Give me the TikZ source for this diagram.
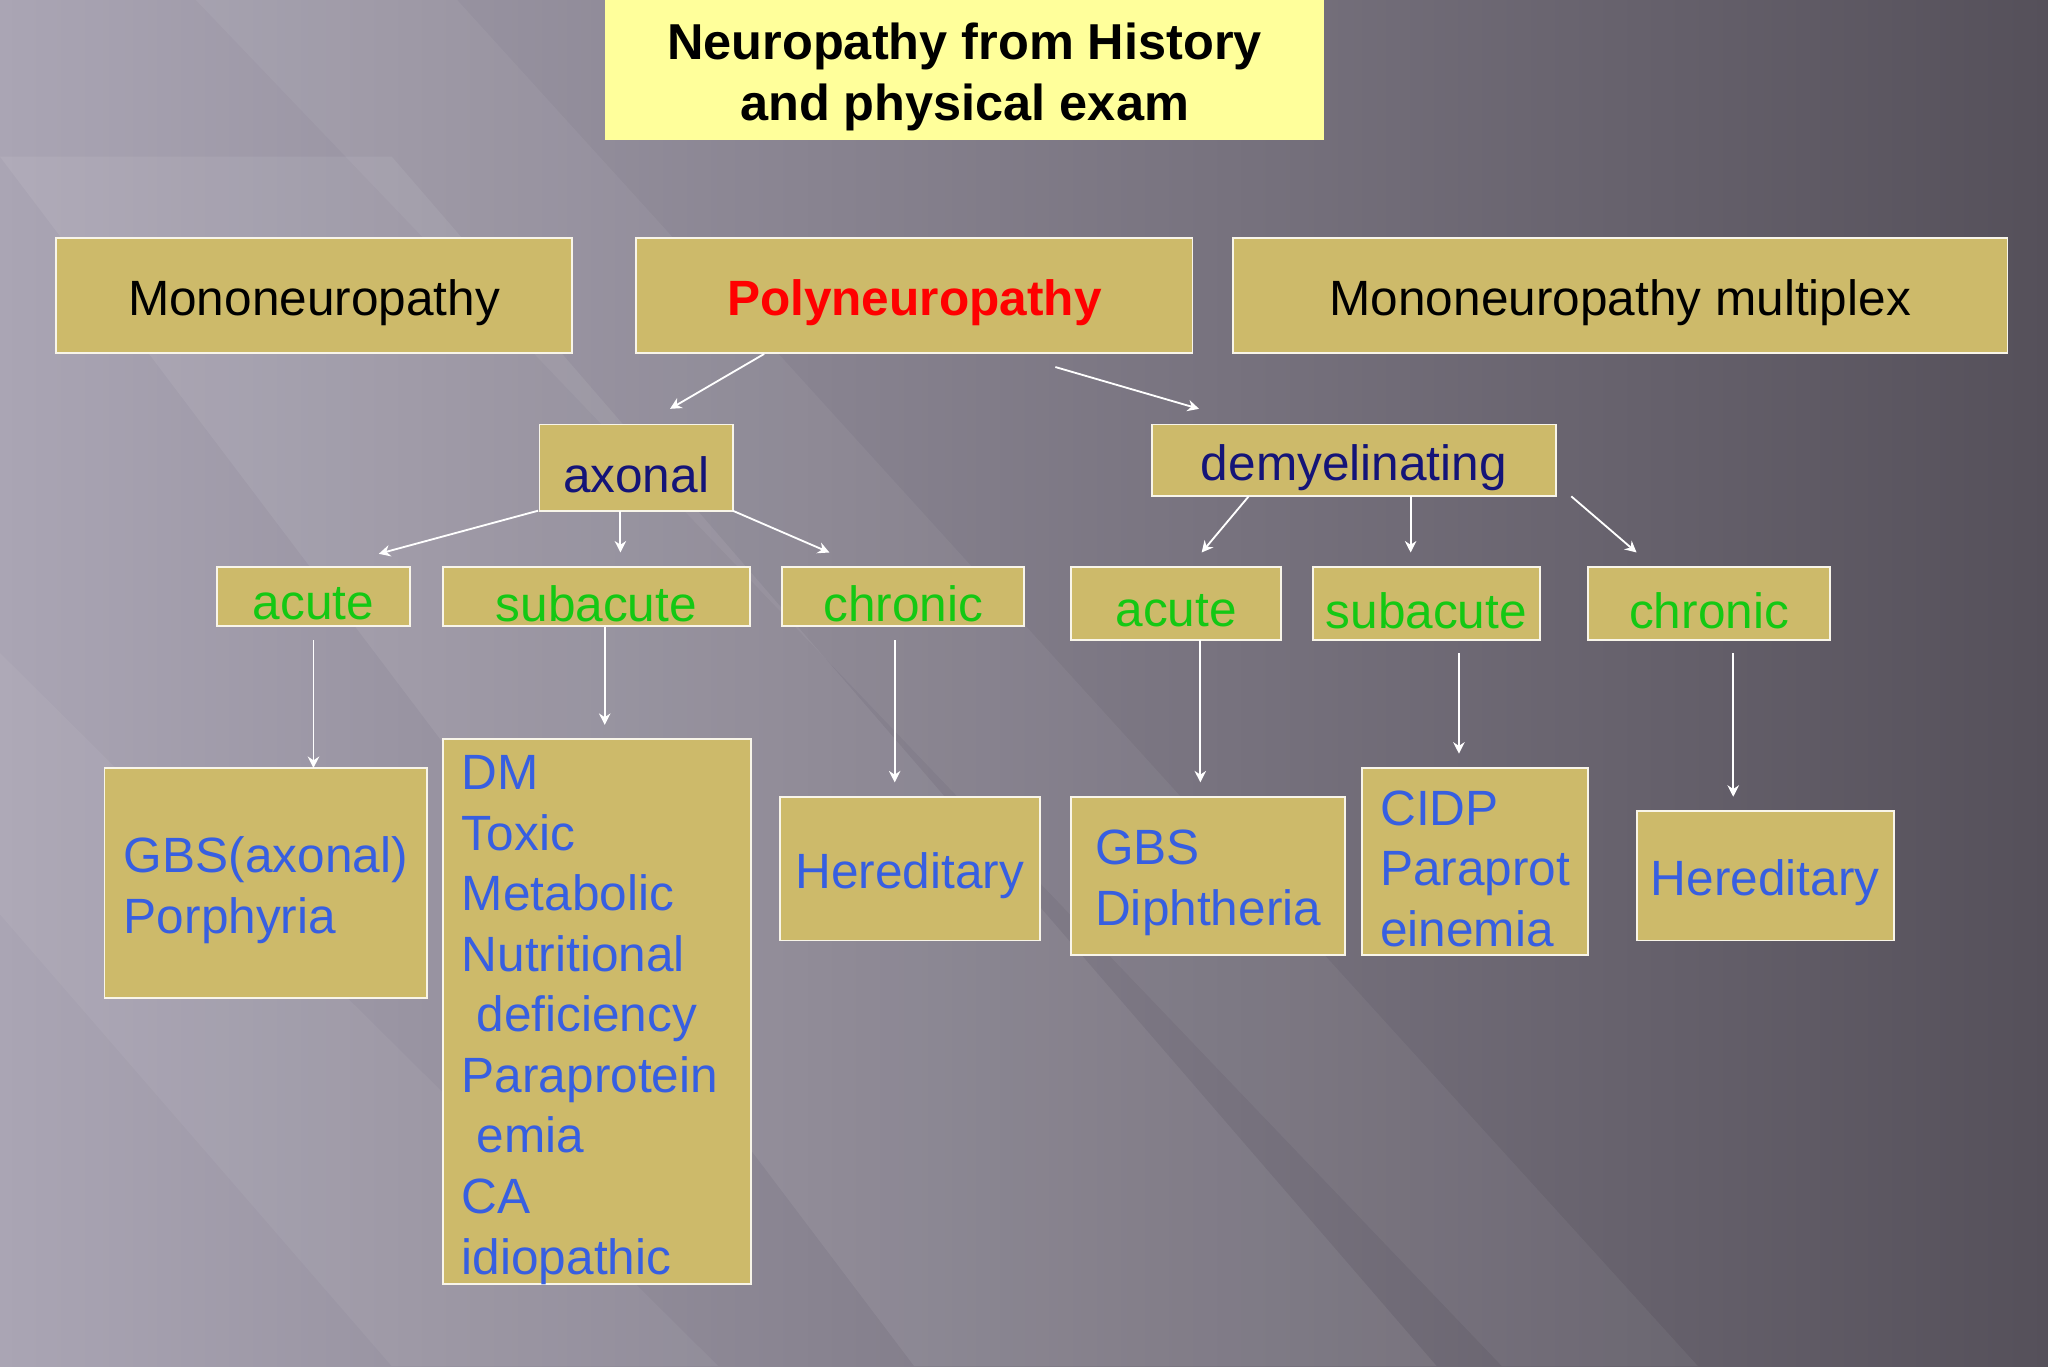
\documentclass[tikz,border=0pt]{standalone}
\usepackage{fontspec}
\setmainfont{Liberation Sans}
\usetikzlibrary{fit,arrows.meta}
\definecolor{boxc}{RGB}{205,186,106}
\definecolor{ttl}{RGB}{255,255,155}
\definecolor{bluet}{RGB}{55,95,225}
\definecolor{greent}{RGB}{20,200,20}
\definecolor{navyt}{RGB}{20,20,120}
\definecolor{bgl}{RGB}{170,165,180}
\definecolor{bgr}{RGB}{85,80,90}
\tikzset{
 bx/.style={fill=boxc,draw=white!85!boxc,line width=0.8pt,inner sep=0pt},
 ar/.style={draw=white,line width=0.8pt,-{Stealth[length=5pt,width=5pt]}},
 lab/.style={font=\fontsize{21.6}{26.4}\selectfont,align=left,inner sep=0pt,yshift=-3.2pt},
}
\begin{document}
\begin{tikzpicture}[x=0.02cm,y=-0.02cm]
\shade[left color=bgl,right color=bgr] (0,0) rectangle (1568,1046);
\fill[white,opacity=0.07] (0,120) -- (300,120) -- (1100,1046) -- (700,1046) -- cycle;
\fill[white,opacity=0.05] (150,0) -- (350,0) -- (1300,1046) -- (1150,1046) -- cycle;
\fill[white,opacity=0.05] (0,500) -- (0,700) -- (300,1046) -- (550,1046) -- cycle;
\useasboundingbox (0,0) rectangle (1568,1046);
% boxes
\node[fill=ttl,inner sep=0pt,fit={(463,0)(1014,107)}] (title) {};
\node[align=center,font=\bfseries\fontsize{22}{26.5}\selectfont] (titlet) at ([yshift=-3pt]title.center) {Neuropathy from History\\and physical exam};
\node[bx,fit={(43,182)(438,270)}] (mono) {};
\node[lab] (monot) at (mono.center) {Mononeuropathy};
\node[bx,fit={(487,182)(913,270)}] (poly) {};
\node[lab,font=\bfseries\fontsize{21.6}{26}\selectfont,text=red] (polyt) at (poly.center) {Polyneuropathy};
\node[bx,fit={(944,182)(1537,270)}] (multi) {};
\node[lab] (multit) at (multi.center) {Mononeuropathy multiplex};
\node[bx,fit={(413,325)(561,391)}] (ax) {}; \node[lab,text=navyt] (axt) at (ax.center) {axonal};
\node[bx,fit={(882,325)(1191,380)}] (de) {}; \node[lab,text=navyt] (det) at (de.center) {demyelinating};
\node[bx,fit={(166,434)(314,479)}] (a1) {}; \node[lab,text=greent] (a1t) at (a1.center) {acute};
\node[bx,fit={(339,434)(574,479)}] (a2) {}; \node[lab,text=greent] (a2t) at (a2.center) {subacute};
\node[bx,fit={(599,434)(784,479)}] (a3) {}; \node[lab,text=greent] (a3t) at (a3.center) {chronic};
\node[bx,fit={(820,434)(981,490)}] (d1) {}; \node[lab,text=greent] (d1t) at (d1.center) {acute};
\node[bx,fit={(1005,434)(1179,490)}] (d2) {}; \node[lab,text=greent] (d2t) at (d2.center) {subacute};
\node[bx,fit={(1216,434)(1401,490)}] (d3) {}; \node[lab,text=greent] (d3t) at (d3.center) {chronic};
\node[bx,fit={(80,588)(327,764)}] (r1) {}; \node[lab,text=bluet] (r1t) at (r1.center) {GBS(axonal)\\Porphyria};
\node[bx,fit={(339,566)(575,983)}] (r2) {}; \node[lab,text=bluet,anchor=north west] (r2t) at ([xshift=8.5pt,yshift=-4pt]r2.north west) {DM\\Toxic\\Metabolic\\Nutritional\\\hspace{0.3em}deficiency\\Paraprotein\\\hspace{0.3em}emia\\CA\\idiopathic};
\node[bx,fit={(597,610)(796,720)}] (r3) {}; \node[lab,text=bluet] (r3t) at (r3.center) {Hereditary};
\node[bx,fit={(820,610)(1030,731)}] (r4) {}; \node[lab,text=bluet] (r4t) at (r4.center) {GBS\\Diphtheria};
\node[bx,fit={(1043,588)(1216,731)}] (r5) {}; \node[lab,text=bluet] (r5t) at (r5.center) {CIDP\\Paraprot\\einemia};
\node[bx,fit={(1253,621)(1450,720)}] (r6) {}; \node[lab,text=bluet] (r6t) at (r6.center) {Hereditary};
% arrows
\foreach \n/\a/\b/\c/\d in {p1/585/271/513/313, p2/808/281/918/313,
 x1/412/391/290/424, x2/475/391/475/423, x3/561/391/635/423,
 y1/956/380/920/423, y2/1080/380/1080/423, y3/1203/380/1253/423,
 v1/240/490/240/588, v2/463/480/463/555, v3/685/490/685/599,
 v4/919/490/919/599, v5/1117/500/1117/577, v6/1327/500/1327/610}{
 \coordinate (\n s) at (\a,\b); \coordinate (\n e) at (\c,\d);
 \draw[ar] (\n s) -- (\n e);}
\end{tikzpicture}
\end{document}
